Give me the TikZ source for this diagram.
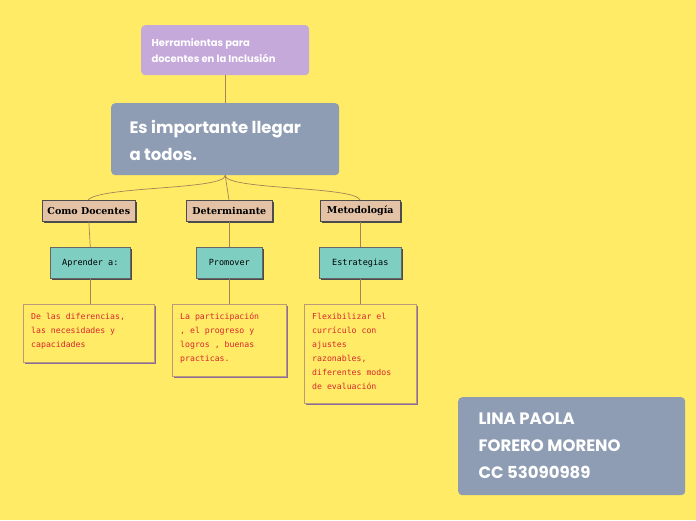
\documentclass[tikz,border=0pt]{standalone}
\usepackage{fontspec}
\usetikzlibrary{shadows}
\setmainfont{Poppins}
\newfontfamily\monof{DejaVu Sans Mono}
\newfontfamily\serf{DejaVu Serif}
\definecolor{bg}{HTML}{FFEB66}
\definecolor{purp}{HTML}{C4A9DA}
\definecolor{slate}{HTML}{8E9DB4}
\definecolor{tan}{HTML}{E3C2A6}
\definecolor{teal}{HTML}{7ECFC1}
\definecolor{ln}{HTML}{A98158}
\definecolor{txtred}{HTML}{D8262E}
\definecolor{shd}{HTML}{8A6BA0}
\begin{document}
\begin{tikzpicture}[x=1pt,y=-1pt,
 big/.style={fill=slate,rounded corners=4pt,inner sep=0pt,anchor=north west},
 lvl1/.style={fill=tan,draw=black!70,line width=0.6pt,anchor=north west,inner sep=0pt,font=\serf\bfseries\fontsize{9.5}{11}\selectfont,
   drop shadow={shadow xshift=1.5pt,shadow yshift=-1.5pt,fill=black!70,opacity=1}},
 lvl2/.style={fill=teal,draw=black!60,line width=0.6pt,anchor=north west,inner sep=0pt,font=\monof\fontsize{8.5}{10}\selectfont,
   drop shadow={shadow xshift=1.5pt,shadow yshift=-1.5pt,fill=black!70,opacity=1}},
 lvl3/.style={fill=bg,draw=ln!80,line width=0.6pt,anchor=north west,inner sep=0pt,
   drop shadow={shadow xshift=1.5pt,shadow yshift=-1.5pt,fill=shd,opacity=1}},
 lvl3t/.style={anchor=north west,inner sep=0pt,font=\monof\fontsize{8.2}{14}\selectfont,text=txtred,align=left},
 con/.style={draw=ln,line width=0.7pt}]
\fill[bg] (0,0) rectangle (696,520);
\useasboundingbox (0,0) rectangle (696,520);
\node[fill=purp,rounded corners=4pt,anchor=north west,minimum width=168pt,minimum height=50pt,inner sep=0pt] (top) at (141,25) {};
\node[text=white,font=\bfseries\fontsize{10}{16}\selectfont,align=left,anchor=west] (topt) at (148,51) {Herramientas para\\docentes en la Inclusión};
\node[big,minimum width=228pt,minimum height=72pt] (main) at (111,103) {};
\node[text=white,font=\bfseries\fontsize{16.5}{27}\selectfont,align=left,anchor=west] (maint) at (126,140) {Es importante llegar\\a todos.};
\draw[con] (top.south) -- (main.north);
\draw[con] (main.south) .. controls (225,190) and (100,186) .. (88,200);
\draw[con] (main.south) .. controls (228,188) .. (229,200);
\draw[con] (main.south) .. controls (225,190) and (355,186) .. (360,200);
\node[lvl1,minimum width=93pt,minimum height=21pt] (c1) at (42,200) {Como Docentes};
\node[lvl1,minimum width=86pt,minimum height=21pt] (c2) at (186,200) {Determinante};
\node[lvl1,minimum width=80pt,minimum height=21pt] (c3) at (320,200) {Metodología};
\node[lvl2,minimum width=80pt,minimum height=31pt] (a1) at (50,247) {Aprender a:};
\node[lvl2,minimum width=66pt,minimum height=31pt] (a2) at (196,247) {Promover};
\node[lvl2,minimum width=82pt,minimum height=31pt] (a3) at (319,247) {Estrategias};
\node[lvl3,minimum width=131pt,minimum height=58pt] (b1) at (23,304) {};
\node[lvl3t] (b1t) at (31,313) {De las diferencias,\\las necesidades y\\capacidades};
\node[lvl3,minimum width=114pt,minimum height=72pt] (b2) at (172,304) {};
\node[lvl3t] (b2t) at (180,313) {La participación\\, el progreso y\\logros , buenas\\practicas.};
\node[lvl3,minimum width=112pt,minimum height=99pt] (b3) at (304,304) {};
\node[lvl3t] (b3t) at (312,313) {Flexibilizar el\\currículo con\\ajustes\\razonables,\\diferentes modos\\de evaluación};
\node[big,minimum width=227pt,minimum height=98pt] (name) at (458,397) {};
\node[text=white,font=\bfseries\fontsize{16.5}{27}\selectfont,align=left,anchor=west] (namet) at (475,446) {LINA PAOLA\\FORERO MORENO\\CC 53090989};
\draw[con] (c1.south) -- (a1.north); \draw[con] (a1.south) -- (b1.north-|a1.south);
\draw[con] (c2.south) -- (a2.north); \draw[con] (a2.south) -- (b2.north-|a2.south);
\draw[con] (c3.south) -- (a3.north); \draw[con] (a3.south) -- (b3.north-|a3.south);
\end{tikzpicture}
\end{document}
